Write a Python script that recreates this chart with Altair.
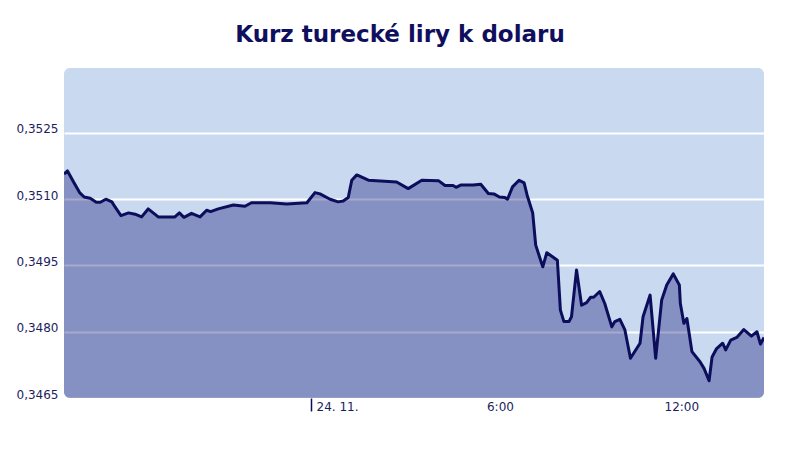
import altair as alt
import pandas as pd

# Time stamps (local time) and USD value of one Turkish lira
times_23 = ["15:35", "15:42", "15:54", "16:06", "16:15", "16:27", "16:39", "16:47",
            "16:58", "17:10", "17:16", "17:28", "17:43", "17:56", "18:09", "18:22",
            "18:42", "19:15", "19:24", "19:33", "19:48", "20:05", "20:18", "20:26",
            "20:41", "21:11", "21:34", "21:47", "22:04", "22:24", "22:57", "23:37",
            "23:53"]
values_23 = [0.35157, 0.35164, 0.35139, 0.35115, 0.35105, 0.35102, 0.35093, 0.35093,
             0.35100, 0.35094, 0.35083, 0.35063, 0.35069, 0.35066, 0.35060, 0.35078,
             0.35060, 0.35060, 0.35069, 0.35059, 0.35068, 0.35060, 0.35075, 0.35072,
             0.35078, 0.35087, 0.35084, 0.35092, 0.35092, 0.35092, 0.35089, 0.35092,
             0.35115]

times_24 = ["00:03", "00:23", "00:39", "00:49", "00:59", "01:06", "01:16", "01:39",
            "02:35", "02:58", "03:25", "03:58", "04:11", "04:27", "04:33", "04:42",
            "05:07", "05:22", "05:37", "05:48", "05:59", "06:10", "06:15", "06:25",
            "06:38", "06:48", "06:54", "07:05", "07:11", "07:25", "07:33", "07:54",
            "08:00", "08:07", "08:17", "08:22", "08:32", "08:42", "08:52", "09:00",
            "09:06", "09:18", "09:28", "09:42", "09:48", "09:58", "10:08", "10:19",
            "10:38", "10:44", "10:58", "11:09", "11:21", "11:31", "11:44", "11:56",
            "11:58", "12:05", "12:11", "12:21", "12:37", "12:45", "12:55", "13:01",
            "13:10", "13:22", "13:28", "13:38", "13:50", "14:04", "14:19", "14:30",
            "14:37", "14:44"]
values_24 = [0.35112, 0.35100, 0.35094, 0.35096, 0.35104, 0.35143, 0.35155, 0.35143,
             0.35139, 0.35124, 0.35143, 0.35142, 0.35131, 0.35131, 0.35127, 0.35132,
             0.35132, 0.35134, 0.35113, 0.35112, 0.35105, 0.35104, 0.35100, 0.35128,
             0.35143, 0.35137, 0.35109, 0.35069, 0.34996, 0.34947, 0.34979, 0.34962,
             0.34849, 0.34823, 0.34823, 0.34834, 0.34940, 0.34860, 0.34866, 0.34878,
             0.34878, 0.34891, 0.34864, 0.34811, 0.34823, 0.34828, 0.34804, 0.34740,
             0.34774, 0.34834, 0.34883, 0.34740, 0.34872, 0.34906, 0.34931, 0.34906,
             0.34864, 0.34819, 0.34830, 0.34755, 0.34732, 0.34717, 0.34689, 0.34743,
             0.34762, 0.34774, 0.34759, 0.34781, 0.34787, 0.34805, 0.34790, 0.34800,
             0.34772, 0.34787]

y_ticks = [0.3465, 0.3480, 0.3495, 0.3510, 0.3525]
y_domain = [0.3465, 0.35397]
title_text = "Kurz turecké liry k dolaru"

times = ["2015-11-23T" + t + ":00" for t in times_23] + ["2015-11-24T" + t + ":00" for t in times_24]
values = values_23 + values_24
df = pd.DataFrame({"time": times, "value": values})

NAVY = "#0c0e5c"
TXT = "#1b1e5e"

x_enc = alt.X(
    "time:T",
    scale=alt.Scale(domain=[times[0], times[-1]]),
    axis=alt.Axis(
        title=None,
        values=[alt.DateTime(year=2015, month=11, date=24, hours=h) for h in (0, 6, 12)],
        labelExpr="hours(datum.value) == 0 ? '24. 11.' : timeFormat(datum.value, '%-H:%M')",
        labelAlign={"expr": "hours(datum.value) == 0 ? 'left' : 'center'"},
        labelOffset={"expr": "hours(datum.value) == 0 ? 5 : 7.5"},
        tickOpacity={"expr": "hours(datum.value) == 0 ? 1 : 0"},
        tickOffset=-7.5,
        tickSize=13,
        tickWidth=1.5,
        tickColor=NAVY,
        labelPadding=-10,
        labelBaseline="top",
        grid=False,
        domain=False,
        labelFont="DejaVu Sans",
        labelFontSize=12,
        labelColor=TXT,
        labelFlush=False,
        labelOverlap=False,
    ),
)

y_enc = alt.Y(
    "value:Q",
    scale=alt.Scale(domain=y_domain, zero=False, nice=False),
    axis=alt.Axis(
        title=None,
        values=y_ticks,
        labelExpr="replace(format(datum.value, '.4f'), '.', ',')",
        ticks=False,
        domain=False,
        grid=True,
        gridColor="white",
        gridWidth=2,
        gridOpacity=1,
        labelPadding=6,
        labelBaseline="alphabetic",
        labelFont="DejaVu Sans",
        labelFontSize=12,
        labelColor=TXT,
        labelFlush=False,
    ),
)

base = alt.Chart(df)
area = base.mark_area(color="#0e1173", opacity=0.36, clip=True).encode(x=x_enc, y=y_enc)
line = base.mark_line(color=NAVY, strokeWidth=3, clip=True, strokeJoin="round").encode(x="time:T", y="value:Q")

chart = (
    alt.layer(area, line)
    .properties(
        width=700,
        height=330,
        autosize=alt.AutoSizeParams(type="none"),
        padding={"left": 56, "top": 60, "right": 28, "bottom": 43},
        title=alt.TitleParams(
            text=title_text,
            font="DejaVu Sans",
            fontSize=23,
            fontWeight="bold",
            color="#0f0f5e",
            anchor="middle",
            baseline="alphabetic",
            offset=27,
            dx=-14,
            dy=24,
        ),
    )
    .configure(background="white")
    .configure_view(fill="#c8d9f0", strokeWidth=0, cornerRadius=6)
)

chart.save("out.html", embed_options={"renderer": "svg", "actions": False})
